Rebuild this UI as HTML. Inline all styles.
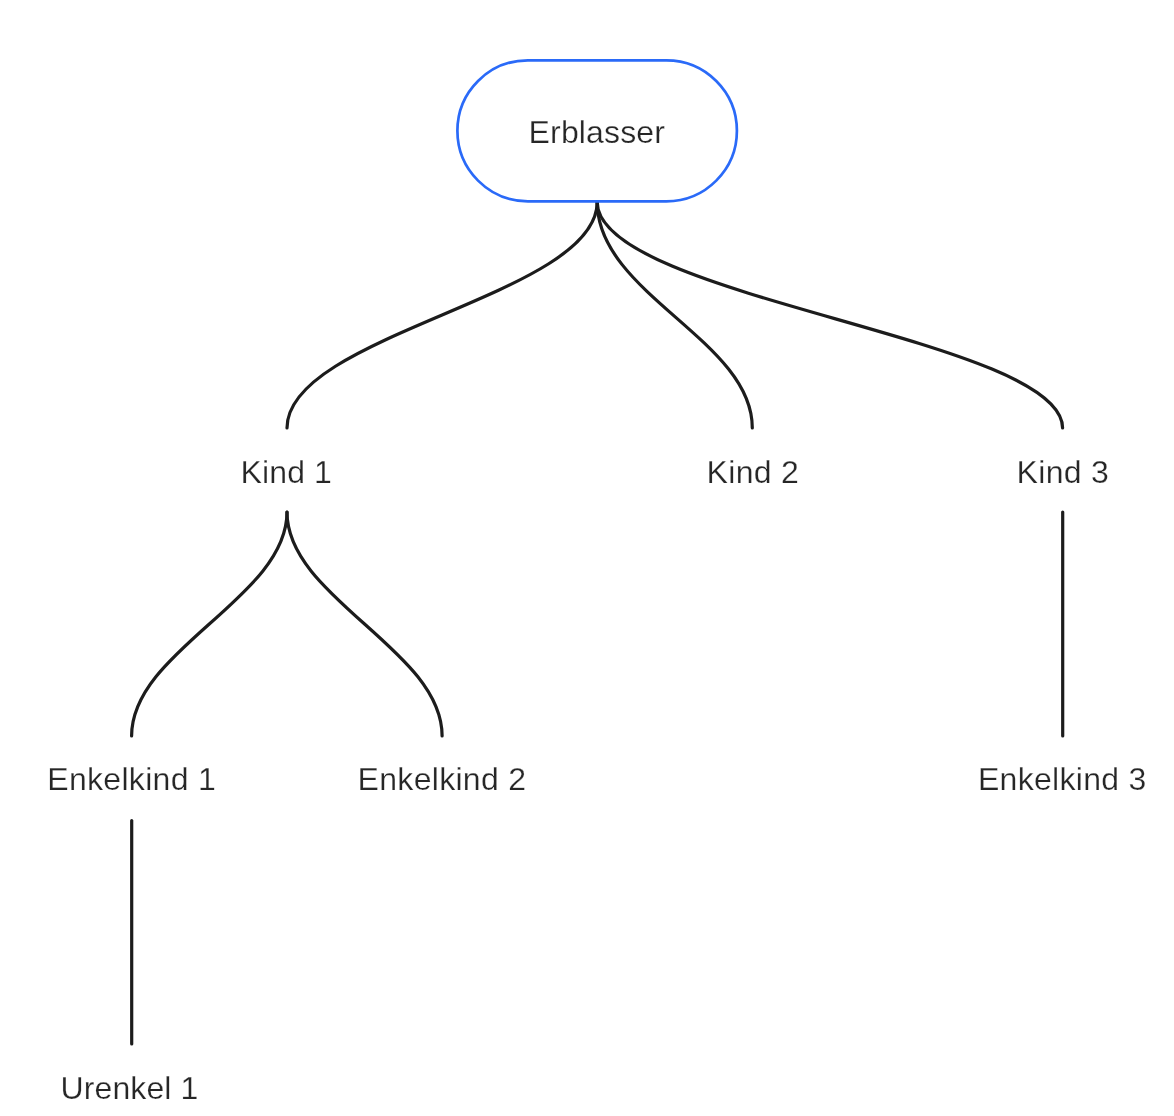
<!DOCTYPE html>
<html>
<head>
<meta charset="utf-8">
<style>
html,body{margin:0;padding:0;background:#ffffff;}
body{width:1174px;height:1116px;overflow:hidden;position:relative;}
svg{position:absolute;left:0;top:0;will-change:transform;}
text{font-family:"Liberation Sans",sans-serif;font-size:32px;fill:#262626;stroke:#ffffff;stroke-width:0.25px;}
</style>
</head>
<body>
<svg width="1174" height="1116" viewBox="0 0 1174 1116">
  <g fill="none" stroke="#1c1c1c" stroke-width="3.2" stroke-linecap="round">
    <path d="M597.2 202 C597.2 296 287 334 287 428"/>
    <path d="M597.2 202 C597.2 294 752.3 340 752.3 428"/>
    <path d="M597.2 202 C597.2 298 1062.6 338 1062.6 428"/>
    <path d="M287 512 C287 598 131.6 650 131.6 736"/>
    <path d="M287 512 C287 598 442.1 650 442.1 736"/>
    <path d="M1062.7 512 L1062.7 736"/>
    <path d="M131.7 820.5 L131.7 1044"/>
  </g>
  <rect x="457.4" y="60.3" width="279.5" height="141" rx="70.5" ry="70.5" fill="#ffffff" stroke="#2a6af8" stroke-width="2.7"/>
  <text x="528.6" y="142.7" letter-spacing="0.15">Erblasser</text>
  <text x="240.6" y="482.8" letter-spacing="0.1">Kind 1</text>
  <text x="706.6" y="482.8" letter-spacing="0.3">Kind 2</text>
  <text x="1016.6" y="482.8" letter-spacing="0.3">Kind 3</text>
  <text x="47.3" y="790.3" letter-spacing="0.3">Enkelkind 1</text>
  <text x="357.6" y="790.3" letter-spacing="0.3">Enkelkind 2</text>
  <text x="977.9" y="790.3" letter-spacing="0.3">Enkelkind 3</text>
  <text x="60.6" y="1098.5" letter-spacing="0.1">Urenkel 1</text>
</svg>
</body>
</html>
